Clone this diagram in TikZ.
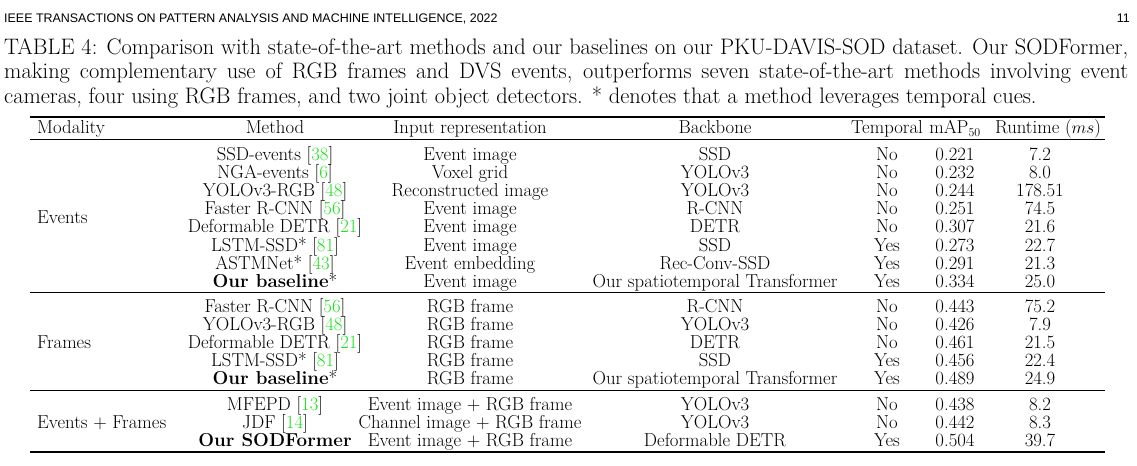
\documentclass[tikz,border=0pt]{standalone}
\usepackage{fontspec}
\newfontfamily\hdr{Liberation Sans}
\definecolor{cg}{RGB}{30,225,30}
\newcommand\cc[1]{[\textcolor{cg}{#1}]}
\newcommand\trow[8]{%
 \node[tc] (m#1) at (275,#2) {#3};
 \node[tc] (i#1) at (470,#2) {#4};
 \node[tc] (b#1) at (715,#2) {#5};
 \node[tc] (t#1) at (887,#2) {#6};
 \node[tc] (p#1) at (955,#2) {#7};
 \node[tc] (r#1) at (1040,#2) {#8};}
\begin{document}
\begin{tikzpicture}[x=1bp,y=-1bp,
 tc/.style={inner sep=0,anchor=base,yshift=-6bp,font=\fontsize{18.8}{20}\selectfont},
 tcl/.style={tc,anchor=base west},
 captxt/.style={inner sep=0,anchor=base west,yshift=-7bp,font=\fontsize{22.5}{24}\selectfont},
 rl/.style={line width=0.6bp},
 trl/.style={line width=1.1bp}]
\useasboundingbox (0,0) rectangle (1137,466);
\node[inner sep=0,anchor=base west,yshift=-5bp,font=\hdr\fontsize{12.5}{14}\selectfont] (hd) at (4,18) {IEEE TRANSACTIONS ON PATTERN ANALYSIS AND MACHINE INTELLIGENCE, 2022};
\node[inner sep=0,anchor=base east,yshift=-5bp,font=\hdr\fontsize{12.5}{14}\selectfont] (pg) at (1130,18) {11};
\node[captxt] (c1) at (4,48) {\makebox[1124bp][s]{TABLE 4: Comparison with state-of-the-art methods and our baselines on our PKU-DAVIS-SOD dataset. Our SODFormer,}};
\node[captxt] (c2) at (4,72) {\makebox[1124bp][s]{making complementary use of RGB frames and DVS events, outperforms seven state-of-the-art methods involving event}};
\node[captxt] (c3) at (4,97) {cameras, four using RGB frames, and two joint object detectors. * denotes that a method leverages temporal cues.};
\draw[trl] (30,117) coordinate (tl) -- (1105,117) coordinate (tr);
\node[tcl] (h0) at (37,128) {Modality};
\node[tc] (h1) at (275,128) {Method};
\node[tc] (h2) at (470,128) {Input representation};
\node[tc] (h3) at (715,128) {Backbone};
\node[tc] (h4) at (887,128) {Temporal};
\node[tc] (h5) at (955,128) {mAP$_{50}$};
\node[tc] (h6) at (1048,128) {Runtime ($ms$)};
\draw[rl] (30,139) coordinate (al) -- (1105,139) coordinate (ar);
\trow{1}{155}{SSD-events \cc{38}}{Event image}{SSD}{No}{0.221}{7.2}
\trow{2}{173}{NGA-events \cc{6}}{Voxel grid}{YOLOv3}{No}{0.232}{8.0}
\trow{3}{191}{YOLOv3-RGB \cc{48}}{Reconstructed image}{YOLOv3}{No}{0.244}{178.51}
\trow{4}{209}{Faster R-CNN \cc{56}}{Event image}{R-CNN}{No}{0.251}{74.5}
\trow{5}{227}{Deformable DETR \cc{21}}{Event image}{DETR}{No}{0.307}{21.6}
\trow{6}{246}{LSTM-SSD* \cc{81}}{Event image}{SSD}{Yes}{0.273}{22.7}
\trow{7}{264}{ASTMNet* \cc{43}}{Event embedding}{Rec-Conv-SSD}{Yes}{0.291}{21.3}
\trow{8}{282}{\textbf{Our baseline}*}{Event image}{Our spatiotemporal Transformer}{Yes}{0.334}{25.0}
\node[tcl] (g1) at (37,218) {Events};
\draw[rl] (30,292) coordinate (bl) -- (1105,292) coordinate (br);
\trow{9}{307}{Faster R-CNN \cc{56}}{RGB frame}{R-CNN}{No}{0.443}{75.2}
\trow{10}{325}{YOLOv3-RGB \cc{48}}{RGB frame}{YOLOv3}{No}{0.426}{7.9}
\trow{11}{343}{Deformable DETR \cc{21}}{RGB frame}{DETR}{No}{0.461}{21.5}
\trow{12}{361}{LSTM-SSD* \cc{81}}{RGB frame}{SSD}{Yes}{0.456}{22.4}
\trow{13}{379}{\textbf{Our baseline}*}{RGB frame}{Our spatiotemporal Transformer}{Yes}{0.489}{24.9}
\node[tcl] (g2) at (37,343) {Frames};
\draw[rl] (30,390) coordinate (cl) -- (1105,390) coordinate (cr);
\trow{14}{405}{MFEPD \cc{13}}{Event image + RGB frame}{YOLOv3}{No}{0.438}{8.2}
\trow{15}{423}{JDF \cc{14}}{Channel image + RGB frame}{YOLOv3}{No}{0.442}{8.3}
\trow{16}{441}{\textbf{Our SODFormer}}{Event image + RGB frame}{Deformable DETR}{Yes}{0.504}{39.7}
\node[tcl] (g3) at (37,423) {Events + Frames};
\draw[trl] (30,452) coordinate (dl) -- (1105,452) coordinate (dr);
\end{tikzpicture}
\end{document}
